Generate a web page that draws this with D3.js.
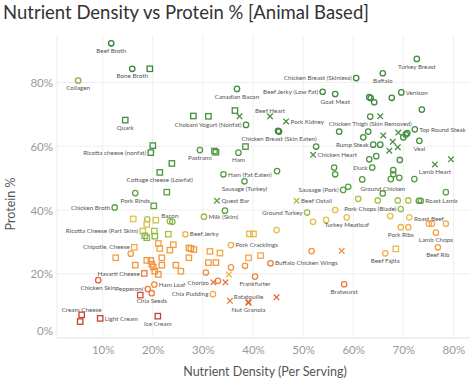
<!DOCTYPE html>
<html><head><meta charset="utf-8">
<script src="https://cdn.jsdelivr.net/npm/d3@7"></script>
<style>
body{margin:0;background:#fff;}
svg{display:block;font-family:Lato, "Open Sans", sans-serif;}
</style></head>
<body><svg id="c" width="474" height="381"></svg>
<script>
// ---- DATA ----
// rows: [label, nutrient density %, protein %, colour score]
const circles = [
 ["Beef Broth",11.7,92.3,98],["Bone Broth",15.9,84.3,96],["Collagen",5.1,80.6,78],
 ["Canadian Bacon",36.8,78.0,92],["Beef Jerky (Low Fat)",53.9,77.1,94],["Chicken Breast (Skinless)",60.6,81.4,94],
 ["Goat Meat",56.4,76.4,94],["Turkey Breast",72.7,87.4,94],["Baffalo",65.9,82.9,94],["Venison",69.6,76.9,94],
 ["Chobani Yogurt (Nonfat)",38.6,66.7,92],["Chicken Breast (Skin Eaten)",45.2,64.6,94],["",45.0,64.8,94],
 ["Chicken Thigh (Skin Removed)",63.4,69.3,92],["Top Round Steak",72.3,65.3,92],["Rump Steak",64.0,60.5,92],
 ["",65.4,60.5,92],["Veal",73.2,61.7,92],["Pastrami",29.4,58.8,88],["Ham",37.1,58.0,88],
 ["Ham (Fat Eaten)",34.1,51.2,86],["Duck",63.8,53.3,88],["Sausage (Turkey)",38.3,49.0,86],
 ["Sausage (Pork)",58.0,46.3,84],["Ground Chicken",65.9,45.2,84],["Pork Rinds",16.5,45.3,84],
 ["Chicken Broth",12.4,40.8,84],["Ground Turkey",50.8,39.2,74],["Milk (Skim)",30.2,37.9,74],
 ["Roast Lamb",73.5,42.9,84],["",73.1,42.9,84],["Pork Chops (Blade)",69.5,40.3,74],
 ["Roast Beef",75.1,35.7,50],["Turkey Meatloaf",58.7,37.7,62],["Pork Ribs",69.5,34.6,52],
 ["Lamb Chops",76.5,32.9,45],["Beef Rib",76.9,28.3,42],["Beef Fajita",66.4,26.4,52],
 ["Bacon",23.4,36.5,74],["Beef Jerky",26.5,32.4,52],["Pork Cracklings",35.6,29.0,52],
 ["Buffalo Chicken Wings",43.5,23.3,30],["Chicken Skin",9.1,18.0,22],["Pepperoni",19.0,15.2,30],
 ["Ham Loaf",20.3,16.6,35],["Chia Seeds",19.8,13.9,32],["Frankfurter",40.4,19.1,32],
 ["Chia Pudding",32.0,13.6,50],["Bratwurst",58.2,16.7,30],
 ["",63.2,75.4,94],["",63.5,75.1,94],["",64.2,73.8,94],["",67.7,75.2,94],["",73.7,71.5,94],
 ["",57.2,64.6,92],["",63.0,64.6,92],["",62.0,62.8,92],["",70.0,62.8,92],["",70.5,63.7,92],
 ["",70.8,64.1,92],["",52.6,59.9,90],["",44.8,52.2,88],["",34.4,39.8,84],["",64.6,56.9,90],
 ["",63.2,55.9,90],["",69.3,55.7,90],["",56.2,53.3,88],["",56.4,51.2,88],["",68.0,52.5,88],
 ["",68.0,51.2,88],["",67.5,49.7,86],["",69.2,50.1,86],["",72.2,49.7,86],["",61.8,49.6,86],
 ["",59.0,47.3,84],["",78.5,45.6,84],["",61.0,43.5,72],["",64.9,43.0,72],["",68.9,43.0,72],
 ["",71.0,43.0,72],["",56.4,40.0,62],["",54.6,36.9,62],["",52.0,36.3,62],["",67.4,38.1,62],
 ["",71.2,37.7,62],["",78.5,35.7,52],["",75.7,35.7,50],["",71.0,34.6,52],["",44.7,33.7,60],
 ["",51.7,27.1,40],["",18.9,37.1,72],["",23.9,36.3,76],["",15.6,26.3,42],["",35.6,22.0,40],
 ["",38.4,22.5,40],["",30.6,20.4,36],["",33.0,17.8,32]
];
const squares = [
 ["",19.4,84.3,96],["Quark",14.5,68.2,92],["",36.4,71.2,92],["",31.1,69.4,92],["",28.1,69.5,92],
 ["",38.5,59.9,90],["",20.0,60.2,92],["Ricotta cheese (nonfat)",19.6,58.0,92],["",32.6,58.1,88],
 ["",32.3,58.5,88],["",23.8,54.6,90],["Cottage cheese (Lowfat)",21.4,51.8,90],["",22.8,45.6,86],
 ["",20.2,41.3,84],["",16.1,37.2,62],["",20.6,36.8,64],["",18.8,35.5,55],
 ["Ricotta Cheese (Part Skim)",18.0,33.4,66],["",18.4,31.9,76],["",18.8,31.3,76],["",20.3,33.4,72],
 ["",20.4,31.8,76],["",23.1,32.4,72],["",39.3,32.5,55],["",40.1,32.5,55],["",68.5,27.8,55],
 ["Chipotle, Cheese",16.3,28.3,50],["",21.1,29.5,45],["",21.4,27.9,45],["",24.1,29.1,45],
 ["",23.4,27.4,42],["",12.6,25.0,45],["",16.5,22.7,40],["",18.8,24.2,42],["",19.6,24.2,40],
 ["",19.8,23.0,40],["",20.1,22.1,38],["",20.4,20.8,38],["",21.1,19.8,38],["",21.8,22.7,40],
 ["",21.8,25.0,42],["",24.6,22.7,42],["",25.6,20.8,42],["",27.2,28.1,42],["",27.6,27.9,42],
 ["",28.2,27.6,42],["",31.4,27.0,46],["",33.4,26.5,48],["",27.2,25.0,45],["",31.1,23.5,42],
 ["",32.6,23.5,42],["",39.1,25.0,48],["",41.5,25.7,48],["Havarti Cheese",18.3,20.1,30],
 ["",17.5,13.3,15],["Cream Cheese",5.8,7.1,8],["",5.5,5.0,8],["Light Cream",9.5,6.0,8],
 ["Ice Cream",21.0,6.7,8]
];
const crosses = [
 ["Beef Heart",43.4,69.4,92],["",37.3,69.4,92],["Pork Kidney",46.6,67.8,92],["",65.4,69.4,92],
 ["",66.0,63.4,92],["",69.0,64.3,92],["",67.9,61.4,92],["",67.2,58.6,92],["",68.9,59.7,92],
 ["Chicken Heart",52.0,57.3,90],["Lamb Heart",76.3,54.3,90],["",79.5,55.9,90],
 ["Quest Bar",32.8,42.9,84],["Beef Oxtail",48.7,42.9,72],["",57.7,27.2,35],["",35.2,19.8,50],
 ["Chorizo",32.1,17.3,28],["",34.5,17.3,28],["Ratatouille",39.1,11.2,28],["Nut Granola",39.1,10.9,25],
 ["",35.4,11.5,30],["",44.7,12.6,25]
];
const xTicks = [10,20,30,40,50,60,70,80];
const yTicks = [0,20,40,60,80];
const title = "Nutrient Density vs Protein % [Animal Based]";
const xTitle = "Nutrient Density (Per Serving)";
const yTitle = "Protein %";

// label placement (style)
const right = new Set(["Venison","Pork Kidney","Top Round Steak","Ham (Fat Eaten)","Chicken Heart","Quest Bar","Beef Oxtail","Milk (Skim)","Roast Lamb","Beef Jerky","Pork Cracklings","Buffalo Chicken Wings","Ham Loaf","Light Cream"]);
const left = new Set(["Beef Jerky (Low Fat)","Chicken Breast (Skinless)","Chobani Yogurt (Nonfat)","Rump Steak","Ricotta cheese (nonfat)","Duck","Sausage (Pork)","Chicken Broth","Ground Turkey","Pork Chops (Blade)","Ricotta Cheese (Part Skim)","Chipotle, Cheese","Havarti Cheese","Pepperoni","Chorizo","Chia Pudding"]);
const above = new Set(["Beef Heart","Ground Chicken","Roast Beef","Bacon","Cream Cheese","Ratatouille"]);

// ---- CHART ----
const svg = d3.select("#c");
const x = d3.scaleLinear().domain([0,80]).range([52.6,453.4]);
const y = d3.scaleLinear().domain([0,80]).range([337.5,82.5]);
const color = d3.scaleLinear()
  .domain([0,20,35,50,62,72,82,100])
  .range(["#b52f2f","#df5a3a","#ee8b3d","#f2ad48","#e0c24a","#a7c14e","#62a647","#2c7a38"]);
const L = 57, R = 470, T = 35, B = 338;

svg.append("text").attr("x",3).attr("y",19).attr("font-size",18.5).attr("fill","#333").text(title);

const g = svg.append("g");
g.selectAll(".vg").data(xTicks).join("line")
  .attr("x1",d=>x(d)).attr("x2",d=>x(d)).attr("y1",T).attr("y2",B)
  .attr("stroke","#efefef").attr("stroke-width",1);
g.selectAll(".hg").data(yTicks.filter(d=>d>0)).join("line")
  .attr("x1",L).attr("x2",R).attr("y1",d=>y(d)).attr("y2",d=>y(d))
  .attr("stroke","#efefef").attr("stroke-width",1);
g.append("line").attr("x1",L).attr("x2",R).attr("y1",B).attr("y2",B).attr("stroke","#e2e2e2");
g.append("line").attr("x1",L).attr("x2",L).attr("y1",T).attr("y2",B).attr("stroke","#ececec");

const xAxis = d3.axisBottom(x).tickValues(xTicks).tickFormat(d=>d+"%").tickSize(0).tickPadding(0);
const xa = svg.append("g").attr("transform",`translate(0,${B})`).call(xAxis);
xa.select(".domain").remove();
xa.selectAll("text").attr("font-size",11.5).attr("fill","#999").attr("font-family","Lato").attr("dy","1.15em").attr("y",3);

const yAxis = d3.axisLeft(y).tickValues(yTicks).tickFormat(d=>d+"%").tickSize(0).tickPadding(0);
const ya = svg.append("g").attr("transform",`translate(53,0)`).call(yAxis);
ya.select(".domain").remove();
ya.selectAll("text").attr("font-size",11.5).attr("fill","#999").attr("font-family","Lato")
  .attr("dy",d=>d===0?"-0.25em":"0.35em");

svg.append("text").attr("x",265).attr("y",376).attr("text-anchor","middle").attr("font-size",12.5).attr("fill","#555").text(xTitle);
svg.append("text").attr("transform","translate(15,204) rotate(-90)").attr("text-anchor","middle").attr("font-size",12.5).attr("fill","#555").text(yTitle);

const marks = svg.append("g").attr("fill","none").attr("stroke-width",1.3);
marks.selectAll("circle").data(circles).join("circle")
  .attr("cx",d=>x(d[1])).attr("cy",d=>y(d[2])).attr("r",2.7).attr("stroke",d=>color(d[3]));
const s = 5.4;
marks.selectAll("rect").data(squares).join("rect")
  .attr("x",d=>x(d[1])-s/2).attr("y",d=>y(d[2])-s/2).attr("width",s).attr("height",s).attr("stroke",d=>color(d[3]));
const c = 2.8;
marks.selectAll("path").data(crosses).join("path")
  .attr("d",d=>{const px=x(d[1]),py=y(d[2]);return `M${px-c},${py-c}L${px+c},${py+c}M${px-c},${py+c}L${px+c},${py-c}`;})
  .attr("stroke",d=>color(d[3]));

const all = circles.concat(squares, crosses).filter(d=>d[0]);
svg.append("g").attr("font-size",6.3).attr("fill","#555").selectAll("text").data(all).join("text")
  .attr("x",d=>{const px=x(d[1]);return right.has(d[0])?px+4.5:left.has(d[0])?px-4.5:px;})
  .attr("y",d=>{const py=y(d[2]);return above.has(d[0])?py-5:(right.has(d[0])||left.has(d[0]))?py:py+7.5;})
  .attr("dy","0.35em")
  .attr("text-anchor",d=>right.has(d[0])?"start":left.has(d[0])?"end":"middle")
  .text(d=>d[0]);
</script></body></html>
